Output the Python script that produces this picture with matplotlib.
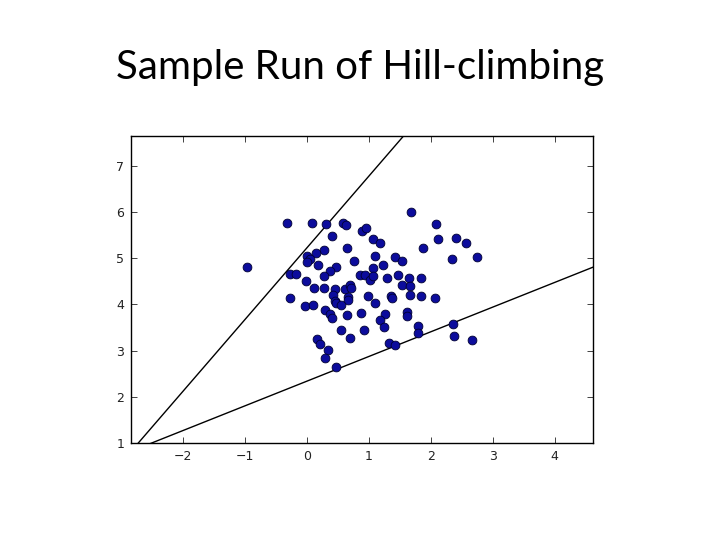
import numpy as np
import matplotlib
matplotlib.use("Agg")
import matplotlib.pyplot as plt

# sample points
xs = np.array([
    -0.32, 0.08, 0.32, 0.59, 0.64, 0.41, 0.65, 0.28, 0.15, 0.01,
    0.06, 0.01, 0.19, 0.48, 0.38, 0.76, -0.96, -0.27, -0.17, -0.01,
    0.28, 0.86, 0.12, 0.28, 0.45, 0.62, 0.70, 0.71, 0.43, 0.67,
    0.67, -0.26, -0.03, 0.10, 0.45, 0.48, 0.56, 0.30, 0.37, 0.41,
    0.65, 0.87, 0.56, 0.70, 0.17, 0.21, 0.35, 0.30, 0.48, 1.69,
    2.08, 0.90, 0.96, 1.07, 1.19, 2.11, 2.40, 2.57, 1.87, 1.11,
    1.43, 1.54, 2.35, 2.75, 1.23, 1.07, 0.94, 1.02, 1.07, 1.30,
    1.47, 1.65, 1.85, 1.53, 1.67, 0.99, 1.36, 1.38, 1.67, 1.85,
    2.07, 1.10, 1.26, 1.19, 1.61, 1.61, 0.92, 1.25, 1.80, 1.80,
    2.36, 2.38, 2.67, 1.32, 1.43])
ys = np.array([
    5.77, 5.77, 5.74, 5.77, 5.72, 5.48, 5.23, 5.18, 5.11, 5.06,
    4.99, 4.91, 4.85, 4.82, 4.73, 4.94, 4.82, 4.67, 4.67, 4.51,
    4.61, 4.64, 4.36, 4.36, 4.33, 4.33, 4.43, 4.36, 4.21, 4.16,
    4.10, 4.15, 3.97, 3.99, 4.08, 4.04, 3.99, 3.88, 3.79, 3.70,
    3.76, 3.82, 3.44, 3.28, 3.26, 3.15, 3.01, 2.83, 2.65, 6.01,
    5.74, 5.60, 5.66, 5.41, 5.33, 5.41, 5.45, 5.33, 5.23, 5.05,
    5.02, 4.94, 4.99, 5.02, 4.85, 4.78, 4.64, 4.54, 4.61, 4.57,
    4.63, 4.57, 4.57, 4.43, 4.39, 4.18, 4.18, 4.14, 4.21, 4.18,
    4.15, 4.03, 3.79, 3.67, 3.84, 3.75, 3.44, 3.50, 3.53, 3.39,
    3.58, 3.31, 3.22, 3.16, 3.12])

# the two separating lines (slope, intercept)
slopes = [1.557, 0.536]
intercepts = [5.22, 2.334]

xlim = (-2.83, 4.62)
ylim = (1.0, 7.65)

fig = plt.figure(figsize=(7.2, 5.4), dpi=100)
fig.text(0.5, 0.875, "Sample Run of Hill-climbing", ha="center", va="center",
         fontsize=29, family=["Lato", "DejaVu Sans"])

ax = fig.add_axes([0.182, 0.180, 0.642, 0.568])
ax.scatter(xs, ys, s=40, c="#0c0c9c", edgecolors="#000033", linewidths=0.6, zorder=3)

xx = np.array(xlim)
for m, b in zip(slopes, intercepts):
    ax.plot(xx, m * xx + b, color="black", linewidth=1.0)

ax.set_xlim(*xlim)
ax.set_ylim(*ylim)
ax.set_xticks(range(-2, 5))
ax.set_yticks(range(1, 8))
ax.tick_params(direction="in", top=True, right=True, length=4, width=0.6,
               labelsize=9, colors="#222222", pad=5)
for sp in ax.spines.values():
    sp.set_linewidth(1.0)

plt.savefig("out.png", dpi=100)
